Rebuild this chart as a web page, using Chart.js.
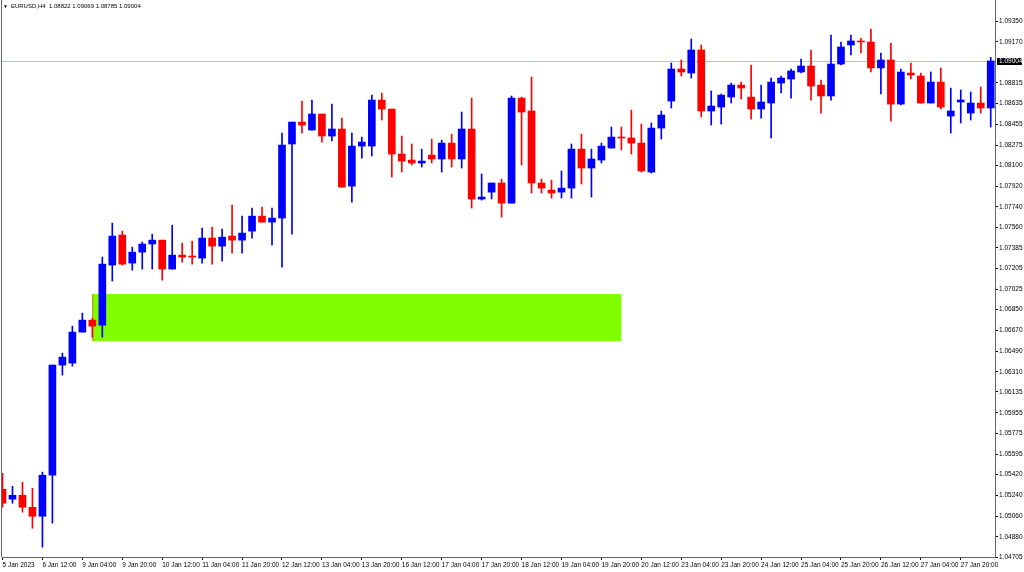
<!DOCTYPE html>
<html>
<head>
<meta charset="utf-8">
<title>EURUSD,H4</title>
<script src="https://cdn.jsdelivr.net/npm/chart.js@4.4.0/dist/chart.umd.min.js"></script>
<style>
  html, body { margin: 0; padding: 0; background: #fff; }
  #wrap { position: relative; width: 1024px; height: 572px; }
  #title { position: absolute; left: 3px; top: 2px; font: 6px "Liberation Sans", Arial, sans-serif; color: #000; white-space: pre; line-height: 8px; }
  #title .arrow { font-size: 5px; margin-right: 3px; }
</style>
</head>
<body>
<div id="wrap">
  <canvas id="chart" width="1024" height="572"></canvas>
  <div id="title"><span class="arrow">▼</span>EURUSD,H4  1.08822 1.09069 1.08785 1.09004</div>
</div>
<script>
// 時間軸ラベル (4本ごと)
const timeLabels = [
  '5 Jan 2023', '6 Jan 12:00', '9 Jan 04:00', '9 Jan 20:00', '10 Jan 12:00',
  '11 Jan 04:00', '11 Jan 20:00', '12 Jan 12:00', '13 Jan 04:00', '13 Jan 20:00',
  '16 Jan 12:00', '17 Jan 04:00', '17 Jan 20:00', '18 Jan 12:00', '19 Jan 04:00',
  '19 Jan 20:00', '20 Jan 12:00', '23 Jan 04:00', '23 Jan 20:00', '24 Jan 12:00',
  '25 Jan 04:00', '25 Jan 20:00', '26 Jan 12:00', '27 Jan 04:00', '27 Jan 20:00'
];
const labelStep = 4;

// 価格軸ラベル
const priceTicks = [
  1.09350, 1.09170, 1.08815, 1.08635, 1.08455, 1.08275, 1.08100, 1.07920, 1.07740,
  1.07560, 1.07385, 1.07205, 1.07025, 1.06850, 1.06670, 1.06490, 1.06310, 1.06135,
  1.05955, 1.05775, 1.05595, 1.05420, 1.05240, 1.05060, 1.04880, 1.04705
];
const priceMin = 1.04705;
const priceMax = 1.09532;

// ローソク足 OHLC
const opens = [
  1.05292, 1.05206, 1.05240, 1.05136, 1.05058, 1.05414, 1.06368, 1.06385, 1.06654, 1.06758,
  1.06714, 1.07235, 1.07495, 1.07252, 1.07347, 1.07417, 1.07451, 1.07200, 1.07321, 1.07313,
  1.07295, 1.07469, 1.07399, 1.07486, 1.07451, 1.07529, 1.07659, 1.07607, 1.07642, 1.08284,
  1.08474, 1.08405, 1.08544, 1.08353, 1.08414, 1.07919, 1.08266, 1.08266, 1.08665, 1.08587,
  1.08197, 1.08145, 1.08119, 1.08188, 1.08154, 1.08292, 1.08154, 1.08414, 1.07807, 1.07867,
  1.07946, 1.07772, 1.08682, 1.08570, 1.07946, 1.07885, 1.07867, 1.07902, 1.08240, 1.08076,
  1.08145, 1.08249, 1.08344, 1.08336, 1.08292, 1.08041, 1.08422, 1.08656, 1.08934, 1.08899,
  1.09099, 1.08570, 1.08604, 1.08691, 1.08795, 1.08691, 1.08587, 1.08639, 1.08812, 1.08847,
  1.08908, 1.08960, 1.08795, 1.08700, 1.08977, 1.09142, 1.09177, 1.09168, 1.08943, 1.09012,
  1.08630, 1.08899, 1.08873, 1.08639, 1.08821, 1.08526, 1.08648, 1.08552, 1.08639, 1.08596
];
const highs = [
  1.05431, 1.05318, 1.05353, 1.05301, 1.05440, 1.06368, 1.06472, 1.06706, 1.06818, 1.06775,
  1.07304, 1.07599, 1.07529, 1.07391, 1.07434, 1.07503, 1.07451, 1.07581, 1.07425, 1.07443,
  1.07555, 1.07564, 1.07547, 1.07755, 1.07659, 1.07729, 1.07737, 1.07729, 1.08379, 1.08474,
  1.08656, 1.08665, 1.08544, 1.08630, 1.08509, 1.08379, 1.08344, 1.08708, 1.08726, 1.08587,
  1.08353, 1.08284, 1.08240, 1.08327, 1.08318, 1.08370, 1.08561, 1.08682, 1.08024, 1.07946,
  1.07980, 1.08700, 1.08691, 1.08865, 1.07980, 1.07971, 1.08050, 1.08284, 1.08370, 1.08240,
  1.08292, 1.08431, 1.08431, 1.08578, 1.08457, 1.08466, 1.08570, 1.08986, 1.09012, 1.09194,
  1.09142, 1.08743, 1.08717, 1.08812, 1.08821, 1.08969, 1.08795, 1.08856, 1.08873, 1.08934,
  1.09021, 1.09099, 1.08838, 1.09229, 1.09168, 1.09229, 1.09203, 1.09281, 1.09073, 1.09159,
  1.08934, 1.08986, 1.08899, 1.08908, 1.08943, 1.08769, 1.08752, 1.08734, 1.08778, 1.09035
];
const lows = [
  1.05136, 1.05171, 1.05093, 1.04954, 1.04790, 1.04998, 1.06281, 1.06359, 1.06654, 1.06610,
  1.06610, 1.07096, 1.07235, 1.07191, 1.07200, 1.07200, 1.07104, 1.07200, 1.07260, 1.07243,
  1.07252, 1.07243, 1.07269, 1.07339, 1.07339, 1.07469, 1.07607, 1.07408, 1.07217, 1.07503,
  1.08379, 1.08405, 1.08301, 1.08310, 1.07911, 1.07781, 1.08162, 1.08180, 1.08492, 1.07997,
  1.08041, 1.08102, 1.08084, 1.08119, 1.08041, 1.08084, 1.08076, 1.07729, 1.07798, 1.07807,
  1.07651, 1.07772, 1.08102, 1.07859, 1.07859, 1.07815, 1.07815, 1.07815, 1.07937, 1.07824,
  1.08119, 1.08249, 1.08232, 1.08197, 1.08041, 1.08032, 1.08327, 1.08596, 1.08873, 1.08856,
  1.08518, 1.08448, 1.08457, 1.08639, 1.08674, 1.08500, 1.08509, 1.08336, 1.08726, 1.08682,
  1.08899, 1.08665, 1.08552, 1.08665, 1.08969, 1.09055, 1.09073, 1.08908, 1.08717, 1.08483,
  1.08622, 1.08847, 1.08639, 1.08639, 1.08587, 1.08379, 1.08466, 1.08492, 1.08552, 1.08431
];
const closes = [
  1.05171, 1.05240, 1.05136, 1.05058, 1.05414, 1.06368, 1.06437, 1.06654, 1.06758, 1.06706,
  1.07243, 1.07486, 1.07243, 1.07347, 1.07417, 1.07451, 1.07200, 1.07321, 1.07304, 1.07304,
  1.07469, 1.07399, 1.07477, 1.07451, 1.07512, 1.07659, 1.07607, 1.07642, 1.08275, 1.08474,
  1.08448, 1.08544, 1.08353, 1.08414, 1.07911, 1.08266, 1.08301, 1.08665, 1.08587, 1.08197,
  1.08136, 1.08119, 1.08136, 1.08154, 1.08292, 1.08154, 1.08414, 1.07807, 1.07824, 1.07946,
  1.07772, 1.08682, 1.08561, 1.07946, 1.07902, 1.07859, 1.07902, 1.08240, 1.08076, 1.08154,
  1.08266, 1.08344, 1.08336, 1.08292, 1.08050, 1.08422, 1.08535, 1.08934, 1.08908, 1.09099,
  1.08570, 1.08613, 1.08708, 1.08795, 1.08769, 1.08587, 1.08648, 1.08821, 1.08856, 1.08917,
  1.08960, 1.08786, 1.08700, 1.08977, 1.09125, 1.09177, 1.09168, 1.08943, 1.09012, 1.08630,
  1.08908, 1.08882, 1.08639, 1.08821, 1.08604, 1.08570, 1.08665, 1.08639, 1.08596, 1.09004
];

// 現在値ライン
const bidPrice = 1.09004;

// 緑のゾーン (開始足, 終了足, 上限, 下限)
const zoneFromBar = 9;
const zoneToBar = 62;
const zoneTop = 1.06984;
const zoneBottom = 1.06577;

const upColor = '#0000ff';
const downColor = '#ff0000';
const axisFont = { family: 'Liberation Sans', size: 6.5 };

const barColors = opens.map((o, i) => closes[i] >= o ? upColor : downColor);
const wickData = opens.map((o, i) => ({ x: i, y: [lows[i], highs[i]] }));
const bodyData = opens.map((o, i) => ({ x: i, y: [o, closes[i]] }));

// ゾーン・現在値ライン・枠を描くプラグイン
const overlayPlugin = {
  id: 'overlay',
  beforeDatasetsDraw(chart) {
    const { ctx, chartArea, scales: { x, y } } = chart;
    const x1 = x.getPixelForValue(zoneFromBar);
    const x2 = x.getPixelForValue(zoneToBar);
    const y1 = y.getPixelForValue(zoneTop);
    const y2 = y.getPixelForValue(zoneBottom);
    ctx.save();
    ctx.fillStyle = '#7fff00';
    ctx.fillRect(x1, y1, x2 - x1, y2 - y1);
    ctx.fillStyle = '#b8860b';
    ctx.fillRect(x1, y1, 1, y2 - y1);

    const by = Math.round(y.getPixelForValue(bidPrice)) + 0.5;
    ctx.strokeStyle = '#b8c4d6';
    ctx.lineWidth = 1;
    ctx.beginPath();
    ctx.moveTo(chartArea.left, by);
    ctx.lineTo(chartArea.right, by);
    ctx.stroke();
    ctx.restore();
  },
  afterDraw(chart) {
    const { ctx, chartArea, scales: { y } } = chart;
    ctx.save();
    // 左の枠線
    ctx.fillStyle = '#666';
    ctx.fillRect(1, chartArea.top, 1, chartArea.bottom - chartArea.top);
    // 現在値ラベル
    const by = Math.round(y.getPixelForValue(bidPrice));
    ctx.fillStyle = '#000';
    ctx.fillRect(chartArea.right + 2, by - 3, 25, 7);
    ctx.fillStyle = '#fff';
    ctx.font = '6.5px "Liberation Sans"';
    ctx.textBaseline = 'middle';
    ctx.fillText(bidPrice.toFixed(5), chartArea.right + 4, by + 0.5);
    ctx.restore();
  }
};

function renderChart() {
  const ctx = document.getElementById('chart').getContext('2d');
  new Chart(ctx, {
    type: 'bar',
    data: {
      datasets: [
        { data: wickData, backgroundColor: barColors, barThickness: 1, grouped: false, order: 2 },
        { data: bodyData, backgroundColor: barColors, barThickness: 7, minBarLength: 1, grouped: false, order: 1 }
      ]
    },
    options: {
      responsive: false,
      animation: false,
      devicePixelRatio: 1,
      events: [],
      layout: { padding: { left: 2, top: 0, right: 0, bottom: 0 } },
      plugins: { legend: { display: false }, tooltip: { enabled: false } },
      scales: {
        x: {
          type: 'linear',
          offset: false,
          min: -0.05,
          max: 99.43,
          grid: { drawOnChartArea: false, drawTicks: true, tickLength: 3, color: '#000', offset: false },
          border: { display: true, color: '#666' },
          ticks: {
            autoSkip: false, maxRotation: 0, align: 'start', padding: 1,
            color: '#000', font: axisFont,
            callback: (v, i) => timeLabels[i]
          },
          afterBuildTicks: s => { s.ticks = timeLabels.map((t, k) => ({ value: k * labelStep })); },
          afterFit: s => { s.height = 15; s.paddingLeft = 0; s.paddingRight = 0; }
        },
        y: {
          position: 'right',
          min: priceMin,
          max: priceMax,
          grid: { drawOnChartArea: false, drawTicks: true, tickLength: 3, color: '#000' },
          border: { display: true, color: '#666' },
          ticks: {
            autoSkip: false, padding: 1, color: '#000', font: axisFont,
            callback: v => v.toFixed(5)
          },
          afterBuildTicks: s => { s.ticks = priceTicks.map(v => ({ value: v })); },
          afterFit: s => { s.width = 29; s.paddingTop = 0; s.paddingBottom = 0; }
        }
      }
    },
    plugins: [overlayPlugin]
  });
}

document.addEventListener('DOMContentLoaded', renderChart);
</script>
</body>
</html>
